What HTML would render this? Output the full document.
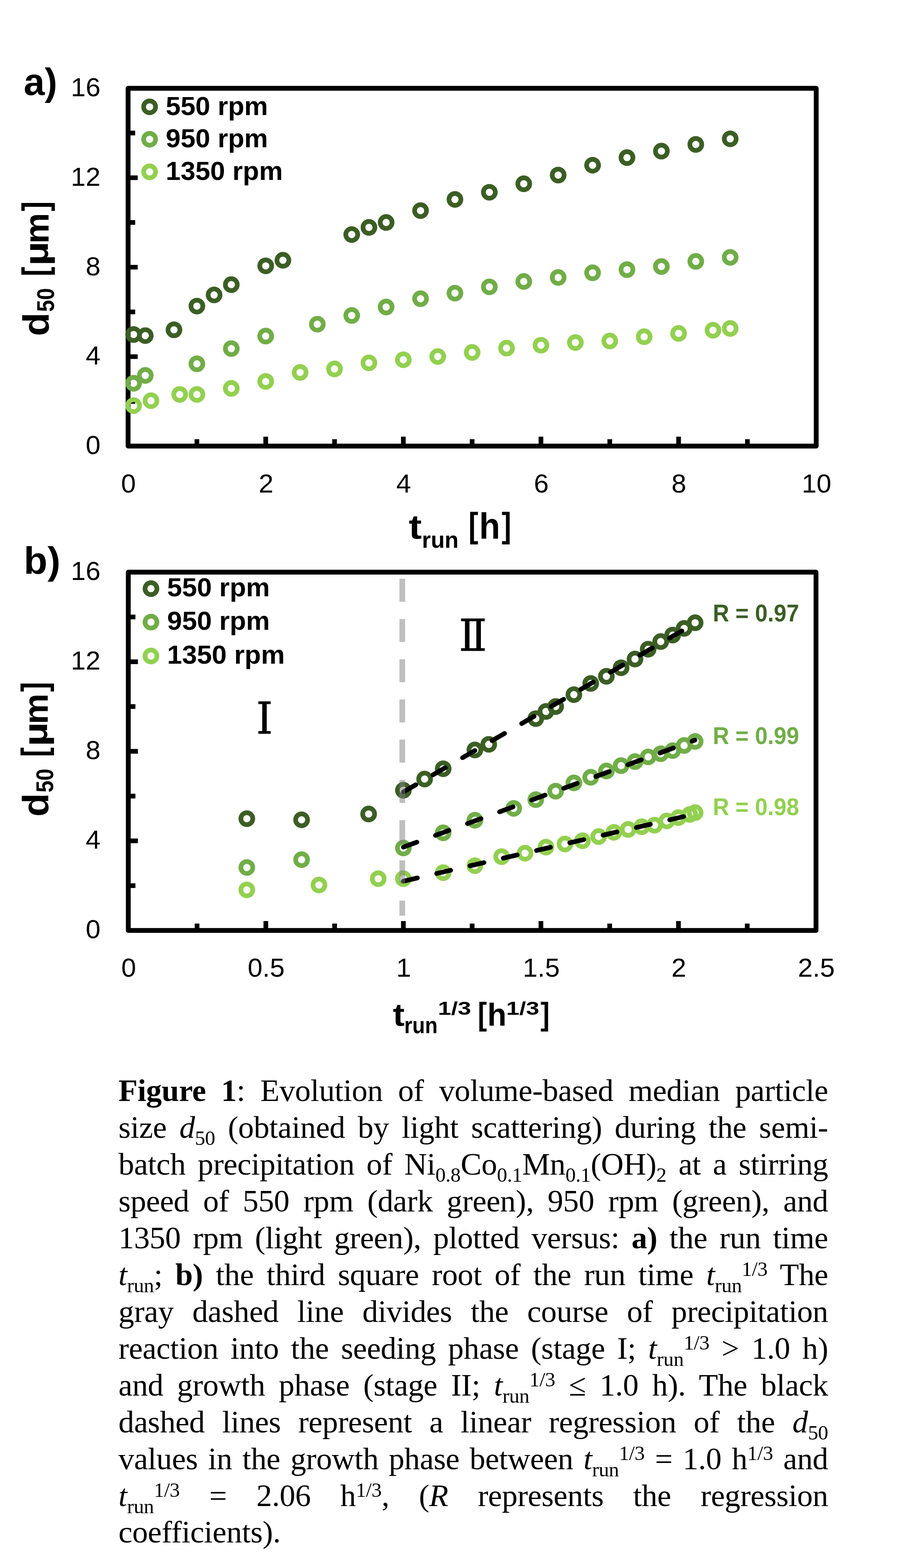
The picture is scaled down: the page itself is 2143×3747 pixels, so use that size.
<!DOCTYPE html>
<html lang="en">
<head>
<meta charset="utf-8">
<title>Figure 1</title>
<style>
html,body{margin:0;padding:0;background:#fff;}
body{width:2143px;height:3747px;position:relative;}
.ln{position:absolute;left:283px;width:1695.5px;letter-spacing:-0.35px;font-variant-ligatures:none;height:100px;line-height:100px;overflow:visible;
 font-family:"Liberation Serif",serif;font-size:75px;color:#000;white-space:nowrap;
 text-align:justify;text-align-last:justify;}
.ln.last{text-align:left;text-align-last:left;}
.ln sub{font-size:49px;vertical-align:baseline;position:relative;top:17px;line-height:0;}
.ln sup{font-size:49px;vertical-align:baseline;position:relative;top:-22px;line-height:0;}
</style>
</head>
<body>
<svg width="2143" height="2500" viewBox="0 0 2143 2500" style="position:absolute;left:0;top:0">
<g id="plot-a">
<rect x="306.00" y="211.00" width="1644.00" height="855.00" fill="none" stroke="#000" stroke-width="11.5" stroke-linejoin="round"/>
<path d="M306.00 959.12h17.0M306.00 852.25h23.0M306.00 745.38h17.0M306.00 638.50h23.0M306.00 531.62h17.0M306.00 424.75h23.0M306.00 317.88h17.0M634.80 1066.00v-22.5M963.60 1066.00v-22.5M1292.40 1066.00v-22.5M1621.20 1066.00v-22.5M470.40 1066.00v-16.5M799.20 1066.00v-16.5M1128.00 1066.00v-16.5M1456.80 1066.00v-16.5M1785.60 1066.00v-16.5" fill="none" stroke="#000" stroke-width="11.2"/>
<circle cx="319.15" cy="799.35" r="14.25" fill="none" stroke="#3b5e24" stroke-width="11.2"/>
<circle cx="347.10" cy="802.02" r="14.25" fill="none" stroke="#3b5e24" stroke-width="11.2"/>
<circle cx="415.65" cy="788.12" r="14.25" fill="none" stroke="#3b5e24" stroke-width="11.2"/>
<circle cx="470.40" cy="731.48" r="14.25" fill="none" stroke="#3b5e24" stroke-width="11.2"/>
<circle cx="511.50" cy="704.76" r="14.25" fill="none" stroke="#3b5e24" stroke-width="11.2"/>
<circle cx="552.60" cy="680.18" r="14.25" fill="none" stroke="#3b5e24" stroke-width="11.2"/>
<circle cx="634.80" cy="635.29" r="14.25" fill="none" stroke="#3b5e24" stroke-width="11.2"/>
<circle cx="675.90" cy="621.93" r="14.25" fill="none" stroke="#3b5e24" stroke-width="11.2"/>
<circle cx="840.30" cy="560.48" r="14.25" fill="none" stroke="#3b5e24" stroke-width="11.2"/>
<circle cx="881.40" cy="543.38" r="14.25" fill="none" stroke="#3b5e24" stroke-width="11.2"/>
<circle cx="922.50" cy="531.62" r="14.25" fill="none" stroke="#3b5e24" stroke-width="11.2"/>
<circle cx="1004.70" cy="503.30" r="14.25" fill="none" stroke="#3b5e24" stroke-width="11.2"/>
<circle cx="1086.90" cy="476.58" r="14.25" fill="none" stroke="#3b5e24" stroke-width="11.2"/>
<circle cx="1169.10" cy="459.48" r="14.25" fill="none" stroke="#3b5e24" stroke-width="11.2"/>
<circle cx="1251.30" cy="439.18" r="14.25" fill="none" stroke="#3b5e24" stroke-width="11.2"/>
<circle cx="1333.50" cy="418.34" r="14.25" fill="none" stroke="#3b5e24" stroke-width="11.2"/>
<circle cx="1415.70" cy="394.82" r="14.25" fill="none" stroke="#3b5e24" stroke-width="11.2"/>
<circle cx="1497.90" cy="376.66" r="14.25" fill="none" stroke="#3b5e24" stroke-width="11.2"/>
<circle cx="1580.10" cy="361.16" r="14.25" fill="none" stroke="#3b5e24" stroke-width="11.2"/>
<circle cx="1662.30" cy="345.13" r="14.25" fill="none" stroke="#3b5e24" stroke-width="11.2"/>
<circle cx="1744.50" cy="331.77" r="14.25" fill="none" stroke="#3b5e24" stroke-width="11.2"/>
<circle cx="319.15" cy="915.84" r="14.25" fill="none" stroke="#70ad47" stroke-width="11.2"/>
<circle cx="347.10" cy="897.14" r="14.25" fill="none" stroke="#70ad47" stroke-width="11.2"/>
<circle cx="470.40" cy="869.35" r="14.25" fill="none" stroke="#70ad47" stroke-width="11.2"/>
<circle cx="552.60" cy="833.01" r="14.25" fill="none" stroke="#70ad47" stroke-width="11.2"/>
<circle cx="634.80" cy="803.09" r="14.25" fill="none" stroke="#70ad47" stroke-width="11.2"/>
<circle cx="758.10" cy="774.77" r="14.25" fill="none" stroke="#70ad47" stroke-width="11.2"/>
<circle cx="840.30" cy="753.92" r="14.25" fill="none" stroke="#70ad47" stroke-width="11.2"/>
<circle cx="922.50" cy="733.62" r="14.25" fill="none" stroke="#70ad47" stroke-width="11.2"/>
<circle cx="1004.70" cy="713.85" r="14.25" fill="none" stroke="#70ad47" stroke-width="11.2"/>
<circle cx="1086.90" cy="700.49" r="14.25" fill="none" stroke="#70ad47" stroke-width="11.2"/>
<circle cx="1169.10" cy="685.52" r="14.25" fill="none" stroke="#70ad47" stroke-width="11.2"/>
<circle cx="1251.30" cy="672.70" r="14.25" fill="none" stroke="#70ad47" stroke-width="11.2"/>
<circle cx="1333.50" cy="663.08" r="14.25" fill="none" stroke="#70ad47" stroke-width="11.2"/>
<circle cx="1415.70" cy="651.86" r="14.25" fill="none" stroke="#70ad47" stroke-width="11.2"/>
<circle cx="1497.90" cy="644.38" r="14.25" fill="none" stroke="#70ad47" stroke-width="11.2"/>
<circle cx="1580.10" cy="636.90" r="14.25" fill="none" stroke="#70ad47" stroke-width="11.2"/>
<circle cx="1662.30" cy="624.61" r="14.25" fill="none" stroke="#70ad47" stroke-width="11.2"/>
<circle cx="1744.50" cy="614.99" r="14.25" fill="none" stroke="#70ad47" stroke-width="11.2"/>
<circle cx="319.15" cy="969.28" r="14.25" fill="none" stroke="#92d050" stroke-width="11.2"/>
<circle cx="360.75" cy="957.52" r="14.25" fill="none" stroke="#92d050" stroke-width="11.2"/>
<circle cx="429.30" cy="942.56" r="14.25" fill="none" stroke="#92d050" stroke-width="11.2"/>
<circle cx="470.40" cy="942.56" r="14.25" fill="none" stroke="#92d050" stroke-width="11.2"/>
<circle cx="552.60" cy="928.13" r="14.25" fill="none" stroke="#92d050" stroke-width="11.2"/>
<circle cx="634.80" cy="911.57" r="14.25" fill="none" stroke="#92d050" stroke-width="11.2"/>
<circle cx="717.00" cy="889.92" r="14.25" fill="none" stroke="#92d050" stroke-width="11.2"/>
<circle cx="799.20" cy="881.64" r="14.25" fill="none" stroke="#92d050" stroke-width="11.2"/>
<circle cx="881.40" cy="867.21" r="14.25" fill="none" stroke="#92d050" stroke-width="11.2"/>
<circle cx="963.60" cy="859.73" r="14.25" fill="none" stroke="#92d050" stroke-width="11.2"/>
<circle cx="1045.80" cy="851.98" r="14.25" fill="none" stroke="#92d050" stroke-width="11.2"/>
<circle cx="1128.00" cy="842.10" r="14.25" fill="none" stroke="#92d050" stroke-width="11.2"/>
<circle cx="1210.20" cy="831.94" r="14.25" fill="none" stroke="#92d050" stroke-width="11.2"/>
<circle cx="1292.40" cy="825.00" r="14.25" fill="none" stroke="#92d050" stroke-width="11.2"/>
<circle cx="1374.60" cy="818.58" r="14.25" fill="none" stroke="#92d050" stroke-width="11.2"/>
<circle cx="1456.80" cy="814.84" r="14.25" fill="none" stroke="#92d050" stroke-width="11.2"/>
<circle cx="1539.00" cy="804.69" r="14.25" fill="none" stroke="#92d050" stroke-width="11.2"/>
<circle cx="1621.20" cy="796.67" r="14.25" fill="none" stroke="#92d050" stroke-width="11.2"/>
<circle cx="1703.40" cy="789.19" r="14.25" fill="none" stroke="#92d050" stroke-width="11.2"/>
<circle cx="1744.50" cy="784.92" r="14.25" fill="none" stroke="#92d050" stroke-width="11.2"/>
<text transform="translate(240.00 1085.00)" font-family="'Liberation Sans', sans-serif" font-size="63.5" font-weight="normal" text-anchor="end" fill="#000" >0</text>
<text transform="translate(240.00 871.25)" font-family="'Liberation Sans', sans-serif" font-size="63.5" font-weight="normal" text-anchor="end" fill="#000" >4</text>
<text transform="translate(240.00 657.50)" font-family="'Liberation Sans', sans-serif" font-size="63.5" font-weight="normal" text-anchor="end" fill="#000" >8</text>
<text transform="translate(240.00 443.75)" font-family="'Liberation Sans', sans-serif" font-size="63.5" font-weight="normal" text-anchor="end" fill="#000" >12</text>
<text transform="translate(240.00 230.00)" font-family="'Liberation Sans', sans-serif" font-size="63.5" font-weight="normal" text-anchor="end" fill="#000" >16</text>
<text transform="translate(306.80 1177.00)" font-family="'Liberation Sans', sans-serif" font-size="63.5" font-weight="normal" text-anchor="middle" fill="#000" >0</text>
<text transform="translate(635.60 1177.00)" font-family="'Liberation Sans', sans-serif" font-size="63.5" font-weight="normal" text-anchor="middle" fill="#000" >2</text>
<text transform="translate(964.40 1177.00)" font-family="'Liberation Sans', sans-serif" font-size="63.5" font-weight="normal" text-anchor="middle" fill="#000" >4</text>
<text transform="translate(1293.20 1177.00)" font-family="'Liberation Sans', sans-serif" font-size="63.5" font-weight="normal" text-anchor="middle" fill="#000" >6</text>
<text transform="translate(1622.00 1177.00)" font-family="'Liberation Sans', sans-serif" font-size="63.5" font-weight="normal" text-anchor="middle" fill="#000" >8</text>
<text transform="translate(1950.80 1177.00)" font-family="'Liberation Sans', sans-serif" font-size="63.5" font-weight="normal" text-anchor="middle" fill="#000" >10</text>
<circle cx="357.40" cy="255.30" r="14.25" fill="none" stroke="#3b5e24" stroke-width="11.2"/>
<text transform="translate(396.00 274.80) scale(1.0030 1.0000)" font-family="'Liberation Sans', sans-serif" font-size="63.5" font-weight="bold" text-anchor="start" fill="#000" >550 rpm</text>
<circle cx="357.40" cy="332.80" r="14.25" fill="none" stroke="#70ad47" stroke-width="11.2"/>
<text transform="translate(396.00 352.30) scale(1.0030 1.0000)" font-family="'Liberation Sans', sans-serif" font-size="63.5" font-weight="bold" text-anchor="start" fill="#000" >950 rpm</text>
<circle cx="357.40" cy="410.60" r="14.25" fill="none" stroke="#92d050" stroke-width="11.2"/>
<text transform="translate(396.00 430.10) scale(1.0030 1.0000)" font-family="'Liberation Sans', sans-serif" font-size="63.5" font-weight="bold" text-anchor="start" fill="#000" >1350 rpm</text>
<text transform="translate(56.80 226.70)" font-family="'Liberation Sans', sans-serif" font-size="90" font-weight="bold" text-anchor="start" fill="#000" >a)</text>
<g>
<text transform="translate(116.23 803.30) rotate(-90) scale(1.0670 1)" font-family="'Liberation Sans', sans-serif" font-size="86.67" font-weight="bold" fill="#000">d</text>
<text transform="translate(128.52 745.23) rotate(-90) scale(0.8811 1)" font-family="'Liberation Sans', sans-serif" font-size="57.95" font-weight="bold" fill="#000">50</text>
<text transform="translate(112.88 660.52) rotate(-90) scale(0.8175 1)" font-family="'Liberation Sans', sans-serif" font-size="84.93" font-weight="bold" fill="#000">[</text>
<text transform="translate(113.93 634.93) rotate(-90) scale(1.2577 1)" font-family="'Liberation Sans', sans-serif" font-size="79.86" font-weight="bold" fill="#000">µ</text>
<text transform="translate(116.00 582.17) rotate(-90) scale(1.0047 1)" font-family="'Liberation Sans', sans-serif" font-size="82.23" font-weight="bold" fill="#000">m</text>
<text transform="translate(112.88 504.80) rotate(-90) scale(0.8442 1)" font-family="'Liberation Sans', sans-serif" font-size="84.93" font-weight="bold" fill="#000">]</text>
</g>
<g>
<text transform="translate(976.53 1287.28) scale(1.1364 1)" font-family="'Liberation Sans', sans-serif" font-size="82.42" font-weight="bold" fill="#000">t</text>
<text transform="translate(1007.96 1308.54) scale(0.9799 1)" font-family="'Liberation Sans', sans-serif" font-size="55.53" font-weight="bold" fill="#000">run</text>
<text transform="translate(1119.24 1283.87) scale(0.8402 1)" font-family="'Liberation Sans', sans-serif" font-size="83.54" font-weight="bold" fill="#000">[</text>
<text transform="translate(1144.65 1286.70) scale(0.9522 1)" font-family="'Liberation Sans', sans-serif" font-size="86.21" font-weight="bold" fill="#000">h</text>
<text transform="translate(1198.54 1283.87) scale(0.8266 1)" font-family="'Liberation Sans', sans-serif" font-size="83.54" font-weight="bold" fill="#000">]</text>
</g>
</g>
<g id="plot-b">
<rect x="306.50" y="1367.30" width="1643.00" height="856.10" fill="none" stroke="#000" stroke-width="11.5" stroke-linejoin="round"/>
<path d="M306.50 2116.39h17.0M306.50 2009.38h23.0M306.50 1902.36h17.0M306.50 1795.35h23.0M306.50 1688.34h17.0M306.50 1581.33h23.0M306.50 1474.31h17.0M635.10 2223.40v-22.5M963.70 2223.40v-22.5M1292.30 2223.40v-22.5M1620.90 2223.40v-22.5M470.80 2223.40v-16.5M799.40 2223.40v-16.5M1128.00 2223.40v-16.5M1456.60 2223.40v-16.5M1785.20 2223.40v-16.5" fill="none" stroke="#000" stroke-width="11.2"/>
<circle cx="589.68" cy="1956.40" r="14.25" fill="none" stroke="#3b5e24" stroke-width="11.2"/>
<circle cx="720.51" cy="1959.08" r="14.25" fill="none" stroke="#3b5e24" stroke-width="11.2"/>
<circle cx="880.71" cy="1945.17" r="14.25" fill="none" stroke="#3b5e24" stroke-width="11.2"/>
<circle cx="963.70" cy="1888.45" r="14.25" fill="none" stroke="#3b5e24" stroke-width="11.2"/>
<circle cx="1014.45" cy="1861.70" r="14.25" fill="none" stroke="#3b5e24" stroke-width="11.2"/>
<circle cx="1058.81" cy="1837.08" r="14.25" fill="none" stroke="#3b5e24" stroke-width="11.2"/>
<circle cx="1134.52" cy="1792.14" r="14.25" fill="none" stroke="#3b5e24" stroke-width="11.2"/>
<circle cx="1167.68" cy="1778.76" r="14.25" fill="none" stroke="#3b5e24" stroke-width="11.2"/>
<circle cx="1279.98" cy="1717.23" r="14.25" fill="none" stroke="#3b5e24" stroke-width="11.2"/>
<circle cx="1304.32" cy="1700.11" r="14.25" fill="none" stroke="#3b5e24" stroke-width="11.2"/>
<circle cx="1327.54" cy="1688.34" r="14.25" fill="none" stroke="#3b5e24" stroke-width="11.2"/>
<circle cx="1371.04" cy="1659.98" r="14.25" fill="none" stroke="#3b5e24" stroke-width="11.2"/>
<circle cx="1411.25" cy="1633.23" r="14.25" fill="none" stroke="#3b5e24" stroke-width="11.2"/>
<circle cx="1448.72" cy="1616.10" r="14.25" fill="none" stroke="#3b5e24" stroke-width="11.2"/>
<circle cx="1483.89" cy="1595.77" r="14.25" fill="none" stroke="#3b5e24" stroke-width="11.2"/>
<circle cx="1517.07" cy="1574.90" r="14.25" fill="none" stroke="#3b5e24" stroke-width="11.2"/>
<circle cx="1548.53" cy="1551.36" r="14.25" fill="none" stroke="#3b5e24" stroke-width="11.2"/>
<circle cx="1578.47" cy="1533.17" r="14.25" fill="none" stroke="#3b5e24" stroke-width="11.2"/>
<circle cx="1607.06" cy="1517.65" r="14.25" fill="none" stroke="#3b5e24" stroke-width="11.2"/>
<circle cx="1634.45" cy="1501.60" r="14.25" fill="none" stroke="#3b5e24" stroke-width="11.2"/>
<circle cx="1660.75" cy="1488.22" r="14.25" fill="none" stroke="#3b5e24" stroke-width="11.2"/>
<circle cx="589.68" cy="2073.05" r="14.25" fill="none" stroke="#70ad47" stroke-width="11.2"/>
<circle cx="720.51" cy="2054.32" r="14.25" fill="none" stroke="#70ad47" stroke-width="11.2"/>
<circle cx="963.70" cy="2026.50" r="14.25" fill="none" stroke="#70ad47" stroke-width="11.2"/>
<circle cx="1058.81" cy="1990.11" r="14.25" fill="none" stroke="#70ad47" stroke-width="11.2"/>
<circle cx="1134.52" cy="1960.15" r="14.25" fill="none" stroke="#70ad47" stroke-width="11.2"/>
<circle cx="1227.25" cy="1931.79" r="14.25" fill="none" stroke="#70ad47" stroke-width="11.2"/>
<circle cx="1279.98" cy="1910.92" r="14.25" fill="none" stroke="#70ad47" stroke-width="11.2"/>
<circle cx="1327.54" cy="1890.59" r="14.25" fill="none" stroke="#70ad47" stroke-width="11.2"/>
<circle cx="1371.04" cy="1870.79" r="14.25" fill="none" stroke="#70ad47" stroke-width="11.2"/>
<circle cx="1411.25" cy="1857.42" r="14.25" fill="none" stroke="#70ad47" stroke-width="11.2"/>
<circle cx="1448.72" cy="1842.44" r="14.25" fill="none" stroke="#70ad47" stroke-width="11.2"/>
<circle cx="1483.89" cy="1829.59" r="14.25" fill="none" stroke="#70ad47" stroke-width="11.2"/>
<circle cx="1517.07" cy="1819.96" r="14.25" fill="none" stroke="#70ad47" stroke-width="11.2"/>
<circle cx="1548.53" cy="1808.73" r="14.25" fill="none" stroke="#70ad47" stroke-width="11.2"/>
<circle cx="1578.47" cy="1801.24" r="14.25" fill="none" stroke="#70ad47" stroke-width="11.2"/>
<circle cx="1607.06" cy="1793.74" r="14.25" fill="none" stroke="#70ad47" stroke-width="11.2"/>
<circle cx="1634.45" cy="1781.44" r="14.25" fill="none" stroke="#70ad47" stroke-width="11.2"/>
<circle cx="1660.75" cy="1771.81" r="14.25" fill="none" stroke="#70ad47" stroke-width="11.2"/>
<circle cx="589.68" cy="2126.55" r="14.25" fill="none" stroke="#92d050" stroke-width="11.2"/>
<circle cx="762.03" cy="2114.78" r="14.25" fill="none" stroke="#92d050" stroke-width="11.2"/>
<circle cx="903.61" cy="2099.80" r="14.25" fill="none" stroke="#92d050" stroke-width="11.2"/>
<circle cx="963.70" cy="2099.80" r="14.25" fill="none" stroke="#92d050" stroke-width="11.2"/>
<circle cx="1058.81" cy="2085.35" r="14.25" fill="none" stroke="#92d050" stroke-width="11.2"/>
<circle cx="1134.52" cy="2068.77" r="14.25" fill="none" stroke="#92d050" stroke-width="11.2"/>
<circle cx="1198.46" cy="2047.10" r="14.25" fill="none" stroke="#92d050" stroke-width="11.2"/>
<circle cx="1254.35" cy="2038.80" r="14.25" fill="none" stroke="#92d050" stroke-width="11.2"/>
<circle cx="1304.32" cy="2024.36" r="14.25" fill="none" stroke="#92d050" stroke-width="11.2"/>
<circle cx="1349.74" cy="2016.87" r="14.25" fill="none" stroke="#92d050" stroke-width="11.2"/>
<circle cx="1391.51" cy="2009.11" r="14.25" fill="none" stroke="#92d050" stroke-width="11.2"/>
<circle cx="1430.30" cy="1999.21" r="14.25" fill="none" stroke="#92d050" stroke-width="11.2"/>
<circle cx="1466.57" cy="1989.04" r="14.25" fill="none" stroke="#92d050" stroke-width="11.2"/>
<circle cx="1500.71" cy="1982.09" r="14.25" fill="none" stroke="#92d050" stroke-width="11.2"/>
<circle cx="1533.00" cy="1975.67" r="14.25" fill="none" stroke="#92d050" stroke-width="11.2"/>
<circle cx="1563.68" cy="1971.92" r="14.25" fill="none" stroke="#92d050" stroke-width="11.2"/>
<circle cx="1592.93" cy="1961.75" r="14.25" fill="none" stroke="#92d050" stroke-width="11.2"/>
<circle cx="1620.90" cy="1953.73" r="14.25" fill="none" stroke="#92d050" stroke-width="11.2"/>
<circle cx="1647.73" cy="1946.24" r="14.25" fill="none" stroke="#92d050" stroke-width="11.2"/>
<circle cx="1660.75" cy="1941.96" r="14.25" fill="none" stroke="#92d050" stroke-width="11.2"/>
<path d="M963.70 1892.46L1660.33 1489.56" fill="none" stroke="#000" stroke-width="11.2" stroke-linecap="round" stroke-dasharray="34.3 47.3"/>
<path d="M963.70 2024.36L1660.33 1768.60" fill="none" stroke="#000" stroke-width="11.2" stroke-linecap="round" stroke-dasharray="34.3 47.3"/>
<path d="M963.70 2105.69L1660.33 1945.17" fill="none" stroke="#000" stroke-width="11.2" stroke-linecap="round" stroke-dasharray="34.3 47.3"/>
<path d="M961.1 1383.0V2188.2" fill="none" stroke="#7f7f7f" stroke-opacity="0.5" stroke-width="13.6" stroke-dasharray="55 41.15"/>
<text transform="translate(240.00 2242.40)" font-family="'Liberation Sans', sans-serif" font-size="63.5" font-weight="normal" text-anchor="end" fill="#000" >0</text>
<text transform="translate(240.00 2028.38)" font-family="'Liberation Sans', sans-serif" font-size="63.5" font-weight="normal" text-anchor="end" fill="#000" >4</text>
<text transform="translate(240.00 1814.35)" font-family="'Liberation Sans', sans-serif" font-size="63.5" font-weight="normal" text-anchor="end" fill="#000" >8</text>
<text transform="translate(240.00 1600.33)" font-family="'Liberation Sans', sans-serif" font-size="63.5" font-weight="normal" text-anchor="end" fill="#000" >12</text>
<text transform="translate(240.00 1386.30)" font-family="'Liberation Sans', sans-serif" font-size="63.5" font-weight="normal" text-anchor="end" fill="#000" >16</text>
<text transform="translate(307.30 2334.40)" font-family="'Liberation Sans', sans-serif" font-size="63.5" font-weight="normal" text-anchor="middle" fill="#000" >0</text>
<text transform="translate(635.90 2334.40)" font-family="'Liberation Sans', sans-serif" font-size="63.5" font-weight="normal" text-anchor="middle" fill="#000" >0.5</text>
<text transform="translate(964.50 2334.40)" font-family="'Liberation Sans', sans-serif" font-size="63.5" font-weight="normal" text-anchor="middle" fill="#000" >1</text>
<text transform="translate(1293.10 2334.40)" font-family="'Liberation Sans', sans-serif" font-size="63.5" font-weight="normal" text-anchor="middle" fill="#000" >1.5</text>
<text transform="translate(1621.70 2334.40)" font-family="'Liberation Sans', sans-serif" font-size="63.5" font-weight="normal" text-anchor="middle" fill="#000" >2</text>
<text transform="translate(1950.30 2334.40)" font-family="'Liberation Sans', sans-serif" font-size="63.5" font-weight="normal" text-anchor="middle" fill="#000" >2.5</text>
<circle cx="360.70" cy="1406.70" r="14.25" fill="none" stroke="#3b5e24" stroke-width="11.2"/>
<text transform="translate(399.30 1425.20) scale(1.0080 1.0000)" font-family="'Liberation Sans', sans-serif" font-size="63.5" font-weight="bold" text-anchor="start" fill="#000" >550 rpm</text>
<circle cx="360.70" cy="1486.70" r="14.25" fill="none" stroke="#70ad47" stroke-width="11.2"/>
<text transform="translate(399.30 1505.20) scale(1.0080 1.0000)" font-family="'Liberation Sans', sans-serif" font-size="63.5" font-weight="bold" text-anchor="start" fill="#000" >950 rpm</text>
<circle cx="360.70" cy="1567.70" r="14.25" fill="none" stroke="#92d050" stroke-width="11.2"/>
<text transform="translate(399.30 1586.20) scale(1.0080 1.0000)" font-family="'Liberation Sans', sans-serif" font-size="63.5" font-weight="bold" text-anchor="start" fill="#000" >1350 rpm</text>
<text transform="translate(56.80 1371.00) scale(1.0300 1.0000)" font-family="'Liberation Sans', sans-serif" font-size="90" font-weight="bold" text-anchor="start" fill="#000" >b)</text>
<g>
<text transform="translate(114.63 1951.80) rotate(-90) scale(1.0670 1)" font-family="'Liberation Sans', sans-serif" font-size="86.67" font-weight="bold" fill="#000">d</text>
<text transform="translate(126.92 1893.73) rotate(-90) scale(0.8811 1)" font-family="'Liberation Sans', sans-serif" font-size="57.95" font-weight="bold" fill="#000">50</text>
<text transform="translate(111.28 1809.02) rotate(-90) scale(0.8175 1)" font-family="'Liberation Sans', sans-serif" font-size="84.93" font-weight="bold" fill="#000">[</text>
<text transform="translate(112.33 1783.43) rotate(-90) scale(1.2577 1)" font-family="'Liberation Sans', sans-serif" font-size="79.86" font-weight="bold" fill="#000">µ</text>
<text transform="translate(114.40 1730.67) rotate(-90) scale(1.0047 1)" font-family="'Liberation Sans', sans-serif" font-size="82.23" font-weight="bold" fill="#000">m</text>
<text transform="translate(111.28 1653.30) rotate(-90) scale(0.8442 1)" font-family="'Liberation Sans', sans-serif" font-size="84.93" font-weight="bold" fill="#000">]</text>
</g>
<g>
<text transform="translate(938.54 2450.54) scale(1.1181 1)" font-family="'Liberation Sans', sans-serif" font-size="75.62" font-weight="bold" fill="#000">t</text>
<text transform="translate(965.78 2469.24) scale(0.8868 1)" font-family="'Liberation Sans', sans-serif" font-size="55.89" font-weight="bold" fill="#000">run</text>
<text transform="translate(1046.25 2424.62) scale(1.2877 1)" font-family="'Liberation Sans', sans-serif" font-size="44.16" font-weight="bold" fill="#000">1/3</text>
<text transform="translate(1141.41 2449.47) scale(0.8611 1)" font-family="'Liberation Sans', sans-serif" font-size="75.82" font-weight="bold" fill="#000">[</text>
<text transform="translate(1164.25 2450.80) scale(0.9922 1)" font-family="'Liberation Sans', sans-serif" font-size="75.59" font-weight="bold" fill="#000">h</text>
<text transform="translate(1209.25 2424.62) scale(1.2877 1)" font-family="'Liberation Sans', sans-serif" font-size="44.16" font-weight="bold" fill="#000">1/3</text>
<text transform="translate(1291.18 2449.47) scale(0.8660 1)" font-family="'Liberation Sans', sans-serif" font-size="75.82" font-weight="bold" fill="#000">]</text>
</g>
<text transform="translate(631.9 1753.4) scale(0.954 1)" font-family="'DejaVu Serif', serif" font-size="104.5" text-anchor="middle" fill="#000" stroke="#000" stroke-width="1" stroke-linejoin="miter">I</text>
<text transform="translate(1116.2 1555.3) scale(0.954 1)" x="0 28.6" font-family="'DejaVu Serif', serif" font-size="104.5" text-anchor="middle" fill="#000" stroke="#000" stroke-width="1" stroke-linejoin="miter">II</text>
<text transform="translate(1703.00 1484.50) scale(0.9430 1.0000)" font-family="'Liberation Sans', sans-serif" font-size="57.4" font-weight="bold" text-anchor="start" fill="#3b5e24" >R = 0.97</text>
<text transform="translate(1703.00 1777.50) scale(0.9430 1.0000)" font-family="'Liberation Sans', sans-serif" font-size="57.4" font-weight="bold" text-anchor="start" fill="#70ad47" >R = 0.99</text>
<text transform="translate(1703.00 1947.50) scale(0.9430 1.0000)" font-family="'Liberation Sans', sans-serif" font-size="57.4" font-weight="bold" text-anchor="start" fill="#92d050" >R = 0.98</text>
</g>
</svg>
<div id="caption">
<div class="ln" style="top:2555.8px"><b>Figure 1</b>: Evolution of volume-based median particle</div>
<div class="ln" style="top:2643.8px">size <i>d</i><sub>50</sub> (obtained by light scattering) during the semi-</div>
<div class="ln" style="top:2731.8px">batch precipitation of Ni<sub>0.8</sub>Co<sub>0.1</sub>Mn<sub>0.1</sub>(OH)<sub>2</sub> at a stirring</div>
<div class="ln" style="top:2819.8px">speed of 550 rpm (dark green), 950 rpm (green), and</div>
<div class="ln" style="top:2907.8px">1350 rpm (light green), plotted versus: <b>a)</b> the run time</div>
<div class="ln" style="top:2995.8px"><i>t</i><sub>run</sub>; <b>b)</b> the third square root of the run time <i>t</i><sub>run</sub><sup>1/3</sup> The</div>
<div class="ln" style="top:3083.8px">gray dashed line divides the course of precipitation</div>
<div class="ln" style="top:3171.8px">reaction into the seeding phase (stage I; <i>t</i><sub>run</sub><sup>1/3</sup> &gt; 1.0 h)</div>
<div class="ln" style="top:3259.8px">and growth phase (stage II; <i>t</i><sub>run</sub><sup>1/3</sup> ≤ 1.0 h). The black</div>
<div class="ln" style="top:3347.8px">dashed lines represent a linear regression of the <i>d</i><sub>50</sub></div>
<div class="ln" style="top:3435.8px">values in the growth phase between <i>t</i><sub>run</sub><sup>1/3</sup> = 1.0 h<sup>1/3</sup> and</div>
<div class="ln" style="top:3523.8px"><i>t</i><sub>run</sub><sup>1/3</sup> = 2.06 h<sup>1/3</sup>, (<i>R</i> represents the regression</div>
<div class="ln last" style="top:3611.3px">coefficients).</div>
</div>
</body>
</html>
